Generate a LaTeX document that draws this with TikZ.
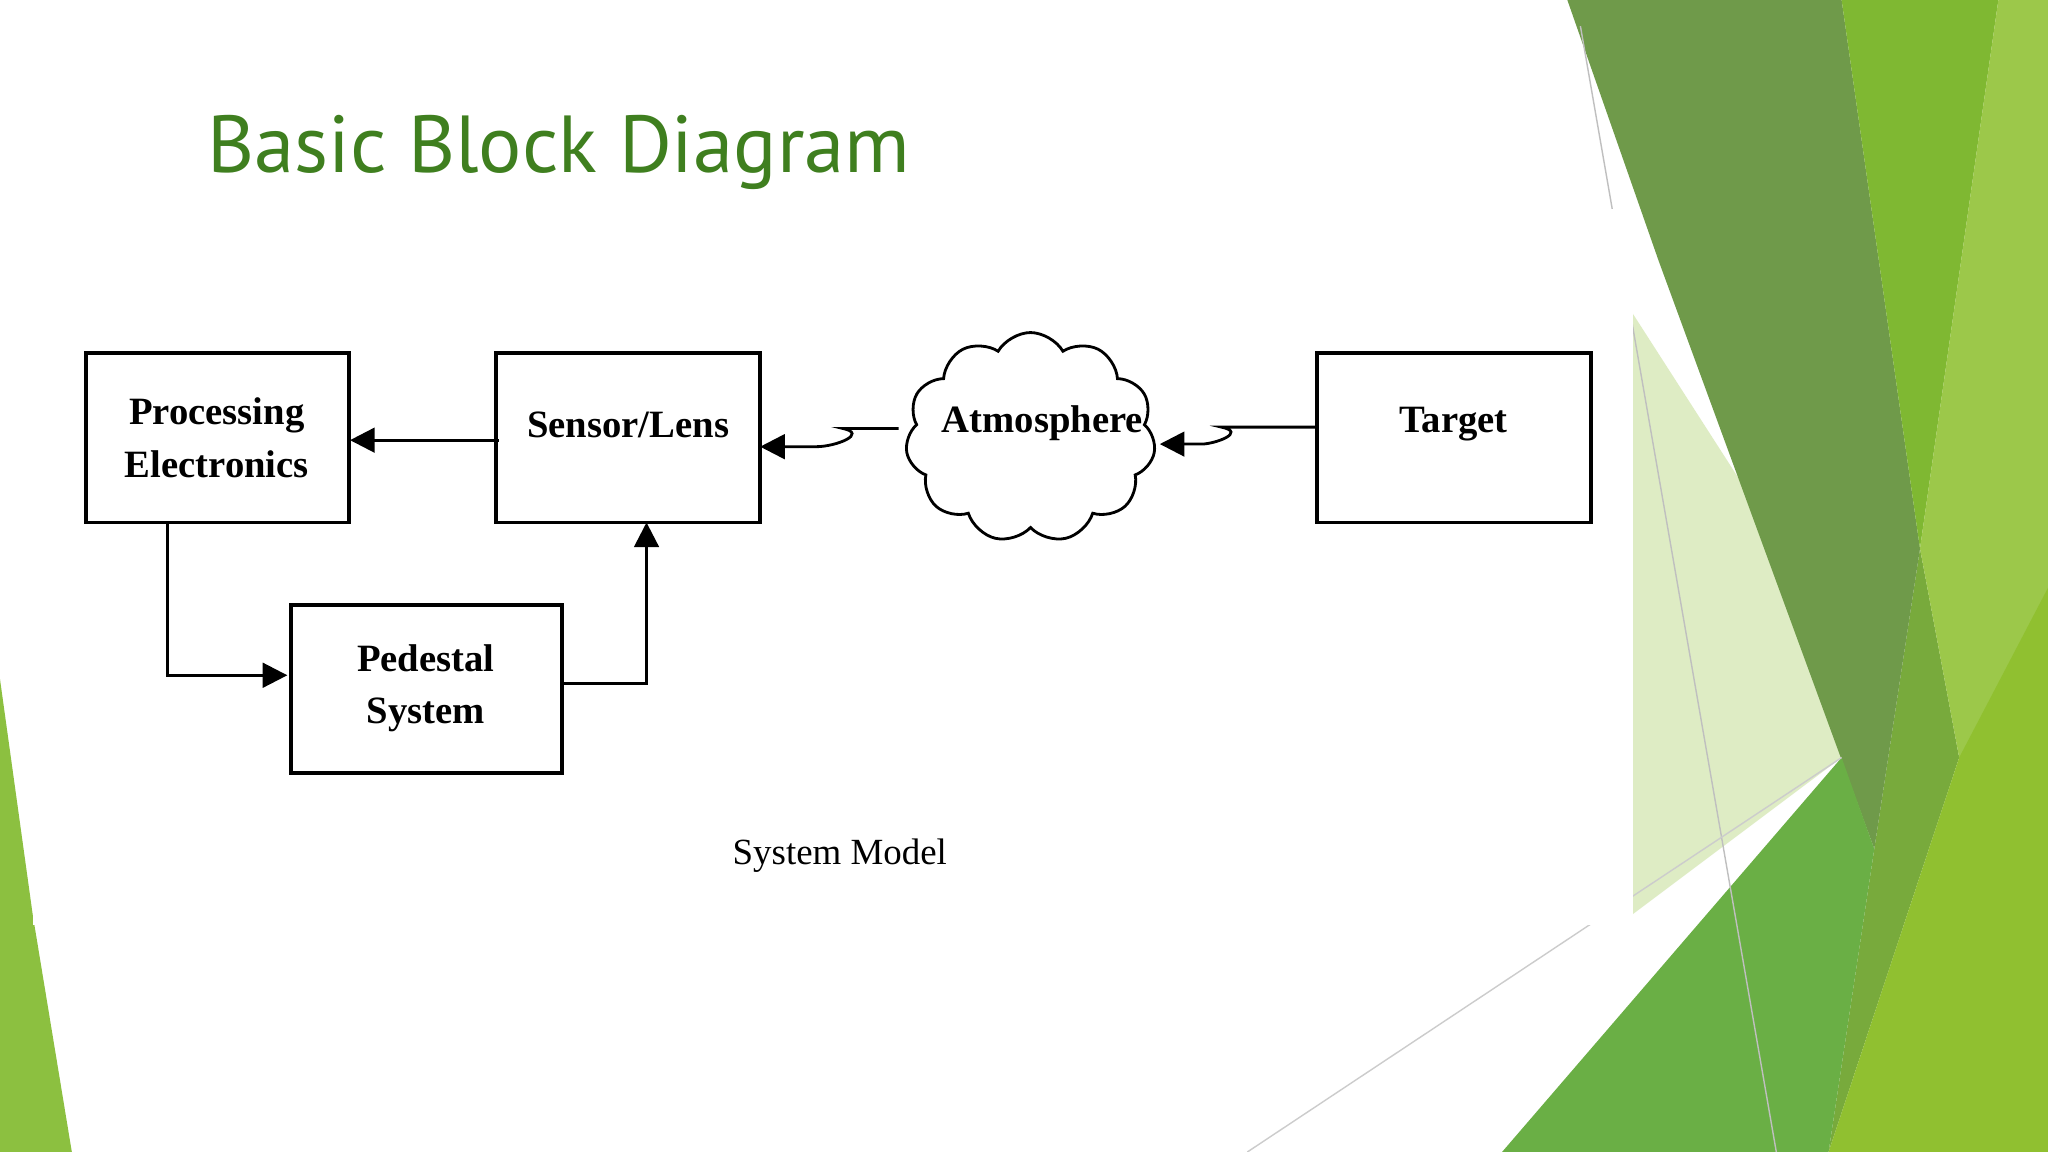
\documentclass[tikz,border=0pt]{standalone}
\usepackage{fontspec}
\setmainfont{Liberation Serif}
\newfontfamily\titlefont{PT Sans}
\usetikzlibrary{shapes.symbols,arrows.meta}
\begin{document}
\begin{tikzpicture}[x=0.013061cm,y=-0.013061cm,
  lbl/.style={font=\bfseries\fontsize{11}{15}\selectfont,align=center},
  box/.style={line width=1.1pt},
  arr/.style={line width=0.8pt,-{Triangle[length=7pt,width=7pt]}}]
\useasboundingbox (0,0) rectangle (1568,882);
\fill[white] (0,0) rectangle (1568,882);
% background decoration
\fill[color={rgb,255:red,222;green,236;blue,196}] (1250,240) -- (1340,380) -- (1410,580) -- (1250,700) -- cycle;
\fill[color={rgb,255:red,120;green,170;blue,60}] (1435,650) -- (1470,420) -- (1500,580) -- (1400,882) -- cycle;
\fill[color={rgb,255:red,111;green,154;blue,74}] (1200,0) -- (1410,0) -- (1470,420) -- (1435,650) -- (1270,200) -- cycle;
\fill[color={rgb,255:red,127;green,184;blue,50}] (1410,0) -- (1530,0) -- (1470,420) -- cycle;
\fill[color={rgb,255:red,156;green,200;blue,74}] (1530,0) -- (1568,0) -- (1568,882) -- (1500,580) -- (1470,420) -- cycle;
\fill[color={rgb,255:red,106;green,175;blue,69}] (1150,882) -- (1410,580) -- (1435,650) -- (1400,882) -- cycle;
\fill[color={rgb,255:red,144;green,192;blue,48}] (1400,882) -- (1500,580) -- (1568,450) -- (1568,882) -- cycle;
\fill[color={rgb,255:red,140;green,192;blue,64}] (0,520) -- (25,700) -- (55,882) -- (0,882) -- cycle;
\draw[gray!50,line width=0.4pt] (1210,20) -- (1360,882);
\draw[gray!40,line width=0.4pt] (955,882) -- (1410,580);
\fill[white] (25,160) rectangle (1250,708);
% title
\node[anchor=base west,inner sep=0pt,font=\titlefont\fontsize{23}{27}\selectfont,text={rgb,255:red,63;green,127;blue,31}] (title) at (158,132) {Basic Block Diagram};
% blocks
\draw[box] (66,270) rectangle (267,400);
\node[lbl] (pe) at (166,335) {Processing\\Electronics};
\draw[box] (380,270) rectangle (582,400);
\node[lbl] (sl) at (481,325) {Sensor/Lens};
\draw[box] (1008,270) rectangle (1218,400);
\node[lbl] (tg) at (1113,325) {Target};
\draw[box] (223,463) rectangle (430,592);
\node[lbl] (ps) at (326,527) {Pedestal\\System};
\node[cloud,draw,line width=0.8pt,cloud puffs=11,cloud puff arc=120,aspect=1.2,minimum width=2.5cm,minimum height=2.1cm,inner sep=0pt] (at) at (789,335) {};
\node[lbl] (att) at (798,324) {Atmosphere};
% connectors
\coordinate (a1) at (382,337); \coordinate (a2) at (268,337);
\draw[arr] (a1) -- (a2);
\coordinate (c1) at (688,328); \coordinate (c2) at (582,342);
\draw[arr] (c1) -- (645,328) .. controls (665,332) and (640,342) .. (625,342) -- (c2);
\coordinate (t1) at (1008,327); \coordinate (t2) at (888,340);
\draw[arr] (t1) -- (935,327) .. controls (955,331) and (930,340) .. (920,340) -- (t2);
\coordinate (p1) at (128,400); \coordinate (p2) at (220,517);
\draw[arr] (p1) |- (p2);
\coordinate (q1) at (430,523); \coordinate (q2) at (495,400);
\draw[arr] (q1) -- (495,523) -- (q2);
\node[font=\fontsize{10.5}{12}\selectfont] (cap) at (643,655) {System Model};
\end{tikzpicture}
\end{document}
